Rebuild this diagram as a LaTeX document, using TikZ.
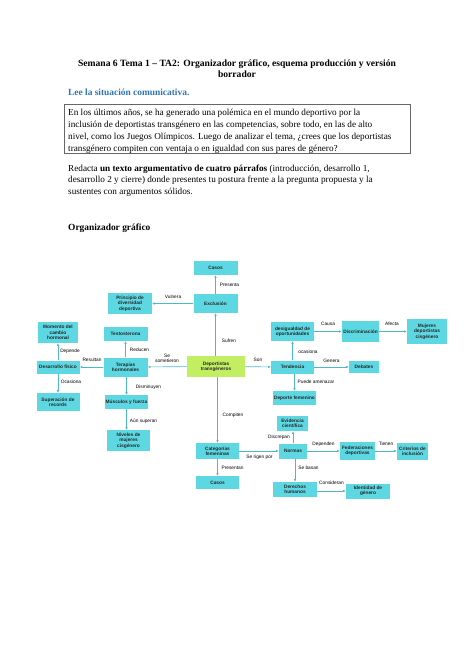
\documentclass[tikz,border=0pt]{standalone}
\usepackage{fontspec}
\setmainfont{Liberation Serif}
\newfontfamily\diagfont{Liberation Sans}
\usetikzlibrary{arrows.meta}
\definecolor{boxc}{HTML}{5DD8E3}
\definecolor{limec}{HTML}{C2EE62}
\definecolor{arrc}{HTML}{4DB9C6}
\definecolor{headblue}{HTML}{2E74B5}
\begin{document}
\begin{tikzpicture}[x=1pt,y=-1pt,
 box/.style={fill=boxc, draw=none, inner sep=0pt, font=\diagfont\bfseries\fontsize{4.8}{5.4}\selectfont, align=center, text=black!85},
 lbl/.style={font=\diagfont\fontsize{4.8}{5.4}\selectfont, inner sep=0pt, text=black, align=center},
 con/.style={draw=arrc, line width=0.6pt, -{Latex[length=2.6pt,width=2.4pt]}},
 body/.style={font=\fontsize{9.2}{11}\selectfont, anchor=base west, inner sep=0pt},
 ttl/.style={font=\bfseries\fontsize{9.6}{11.5}\selectfont, anchor=base, inner sep=0pt}
]
\useasboundingbox[fill=white] (0,0) rectangle (474,670);

% ---- header text ----
\node[ttl] (t1) at (237,66) {Semana 6 Tema 1 – TA2: Organizador gráfico, esquema producción y versión};
\node[ttl] (t2) at (237,77.5) {borrador};
\node[body, font=\bfseries\fontsize{9.4}{11}\selectfont, text=headblue] (lee) at (68,95) {Lee la situación comunicativa.};
\node[draw=black!60, line width=0.6pt, minimum width=346pt, minimum height=49pt, anchor=north west, inner sep=0pt] (sitbox) at (64,104) {};
\node[body] (s1) at (68,115) {En los últimos años, se ha generado una polémica en el mundo deportivo por la};
\node[body] (s2) at (68,127) {inclusión de deportistas transgénero en las competencias, sobre todo, en las de alto};
\node[body] (s3) at (68,139) {nivel, como los Juegos Olímpicos. Luego de analizar el tema, ¿crees que los deportistas};
\node[body] (s4) at (68,151) {transgénero compiten con ventaja o en igualdad con sus pares de género?};
\node[body] (r1) at (68,171) {Redacta \textbf{un texto argumentativo de cuatro párrafos} (introducción, desarrollo 1,};
\node[body] (r2) at (68,182.5) {desarrollo 2 y cierre) donde presentes tu postura frente a la pregunta propuesta y la};
\node[body] (r3) at (68,194) {sustentes con argumentos sólidos.};
\node[body, font=\bfseries\fontsize{9.4}{11}\selectfont] (org) at (68,230) {Organizador gráfico};

% ---- diagram nodes ----
\node[box,minimum width=44pt,minimum height=14pt] (casosT) at (215.5,268) {Casos};
\node[box,minimum width=44pt,minimum height=21pt] (principio) at (130,303.5) {Principio de\\diversidad\\deportiva};
\node[box,minimum width=44pt,minimum height=19pt] (exclusion) at (215.5,303.5) {Exclusión};
\node[box,minimum width=44pt,minimum height=14pt] (testo) at (125.5,334) {Testosterona};
\node[box,minimum width=44pt,minimum height=19pt] (terapias) at (125.5,367) {Terapias\\hormonales};
\node[box,minimum width=58pt,minimum height=21pt,fill=limec] (deport) at (216,366.5) {Deportistas\\transgéneros};
\node[box,minimum width=40pt,minimum height=21pt] (momento) at (58,332.5) {Momento del\\cambio\\hormonal};
\node[box,minimum width=43pt,minimum height=13pt] (desarrollo) at (58,367) {Desarrollo físico};
\node[box,minimum width=43pt,minimum height=18pt] (superacion) at (58,402) {Superación de\\records};
\node[box,minimum width=43pt,minimum height=14pt] (musculos) at (126.5,402) {Músculos y fuerza};
\node[box,minimum width=43pt,minimum height=21pt] (niveles) at (128.5,440.5) {Niveles de\\mujeres\\cisgénero};
\node[box,minimum width=43pt,minimum height=19pt] (desig) at (292.5,331.5) {desigualdad de\\oportunidades};
\node[box,minimum width=37pt,minimum height=21pt] (discrim) at (360.5,331.5) {Discriminación};
\node[box,minimum width=40pt,minimum height=25pt] (mujeres) at (427,331.5) {Mujeres\\deportistas\\cisgénero};
\node[box,minimum width=43pt,minimum height=13pt] (tendencia) at (292.5,367) {Tendencia};
\node[box,minimum width=30pt,minimum height=12pt] (debates) at (364,367) {Debates};
\node[box,minimum width=43pt,minimum height=14pt] (deporteF) at (294.5,398) {Deporte femenino};
\node[box,minimum width=43pt,minimum height=16pt] (categ) at (217.5,451) {Categorías\\femeninas};
\node[box,minimum width=43pt,minimum height=13pt] (casosB) at (217.5,482.5) {Casos};
\node[box,minimum width=31pt,minimum height=15pt] (evid) at (292.5,423.5) {Evidencia\\científica};
\node[box,minimum width=28pt,minimum height=15pt] (normas) at (293,451) {Normas};
\node[box,minimum width=35pt,minimum height=18pt] (feder) at (357.5,451) {Federaciones\\deportivas};
\node[box,minimum width=31pt,minimum height=17pt] (criter) at (412.5,451) {Criterios de\\inclusión};
\node[box,minimum width=44pt,minimum height=15pt] (derechos) at (295,489.5) {Derechos\\humanos};
\node[box,minimum width=44pt,minimum height=15pt] (identidad) at (368,491) {Identidad de\\género};

% ---- connectors ----
\draw[con] (exclusion) -- (casosT);
\draw[con] (exclusion) -- (principio);
\draw[con] (deport.north -| exclusion) -- (exclusion);
\draw[con] (deport) -- (terapias);
\draw[con] (terapias) -- (testo);
\draw[con] (terapias) -- (desarrollo);
\draw[con] (desarrollo) -- (momento);
\draw[con] (desarrollo) -- (superacion);
\draw[con] (terapias.south -| musculos) -- (musculos);
\draw[con] (musculos) -- (musculos |- niveles.north);
\draw[con] (deport) -- (tendencia);
\draw[con] (tendencia) -- (desig);
\draw[con] (desig) -- (discrim);
\draw[con] (discrim) -- (mujeres);
\draw[con] (tendencia) -- (debates);
\draw[con] (tendencia.south -| deporteF) -- (deporteF);
\draw[con] (deport.south -| categ) -- (categ);
\draw[con] (categ) -- (casosB);
\draw[con] (categ) -- (normas);
\draw[con] (normas) -- (normas |- evid.south);
\draw[con] (normas) -- (feder);
\draw[con] (feder) -- (criter);
\draw[con] (normas.south -| derechos) -- (derechos);
\draw[con] (derechos.east |- identidad) -- (identidad);

% ---- labels ----
\node[lbl] (lPresenta) at (229.5,285) {Presenta};
\node[lbl] (lVulnera) at (173,297) {Vulnera};
\node[lbl] (lSufren) at (229,341) {Sufren};
\node[lbl] (lReducen) at (139.5,350) {Reducen};
\node[lbl] (lSe) at (167,358.5) {Se\\sometieron};
\node[lbl] (lSon) at (258,360) {Son};
\node[lbl] (lDepende) at (70,351) {Depende};
\node[lbl] (lResultan) at (92,360) {Resultan};
\node[lbl] (lOcasiona) at (71,382) {Ocasiona};
\node[lbl] (lDismin) at (148.5,387) {Disminuyen};
\node[lbl] (lAun) at (143.5,421) {Aún superan};
\node[lbl] (lCausa) at (328,324) {Causa};
\node[lbl] (lAfecta) at (392,324) {Afecta};
\node[lbl] (locasiona) at (308,352) {ocasiona};
\node[lbl] (lGenera) at (331.5,361) {Genera};
\node[lbl] (lPuede) at (316,382) {Puede amenazar};
\node[lbl] (lCompiten) at (233,415) {Compiten};
\node[lbl] (lDiscrepan) at (279,437) {Discrepan};
\node[lbl] (lDependen) at (323.5,444) {Dependen};
\node[lbl] (lTienen) at (386,444) {Tienen};
\node[lbl] (lRigen) at (259.5,457) {Se rigen por};
\node[lbl] (lPresentan) at (232.5,468) {Presentan};
\node[lbl] (lBasan) at (308.5,468) {Se basan};
\node[lbl] (lConsid) at (331.5,483) {Consideran};
\end{tikzpicture}
\end{document}
